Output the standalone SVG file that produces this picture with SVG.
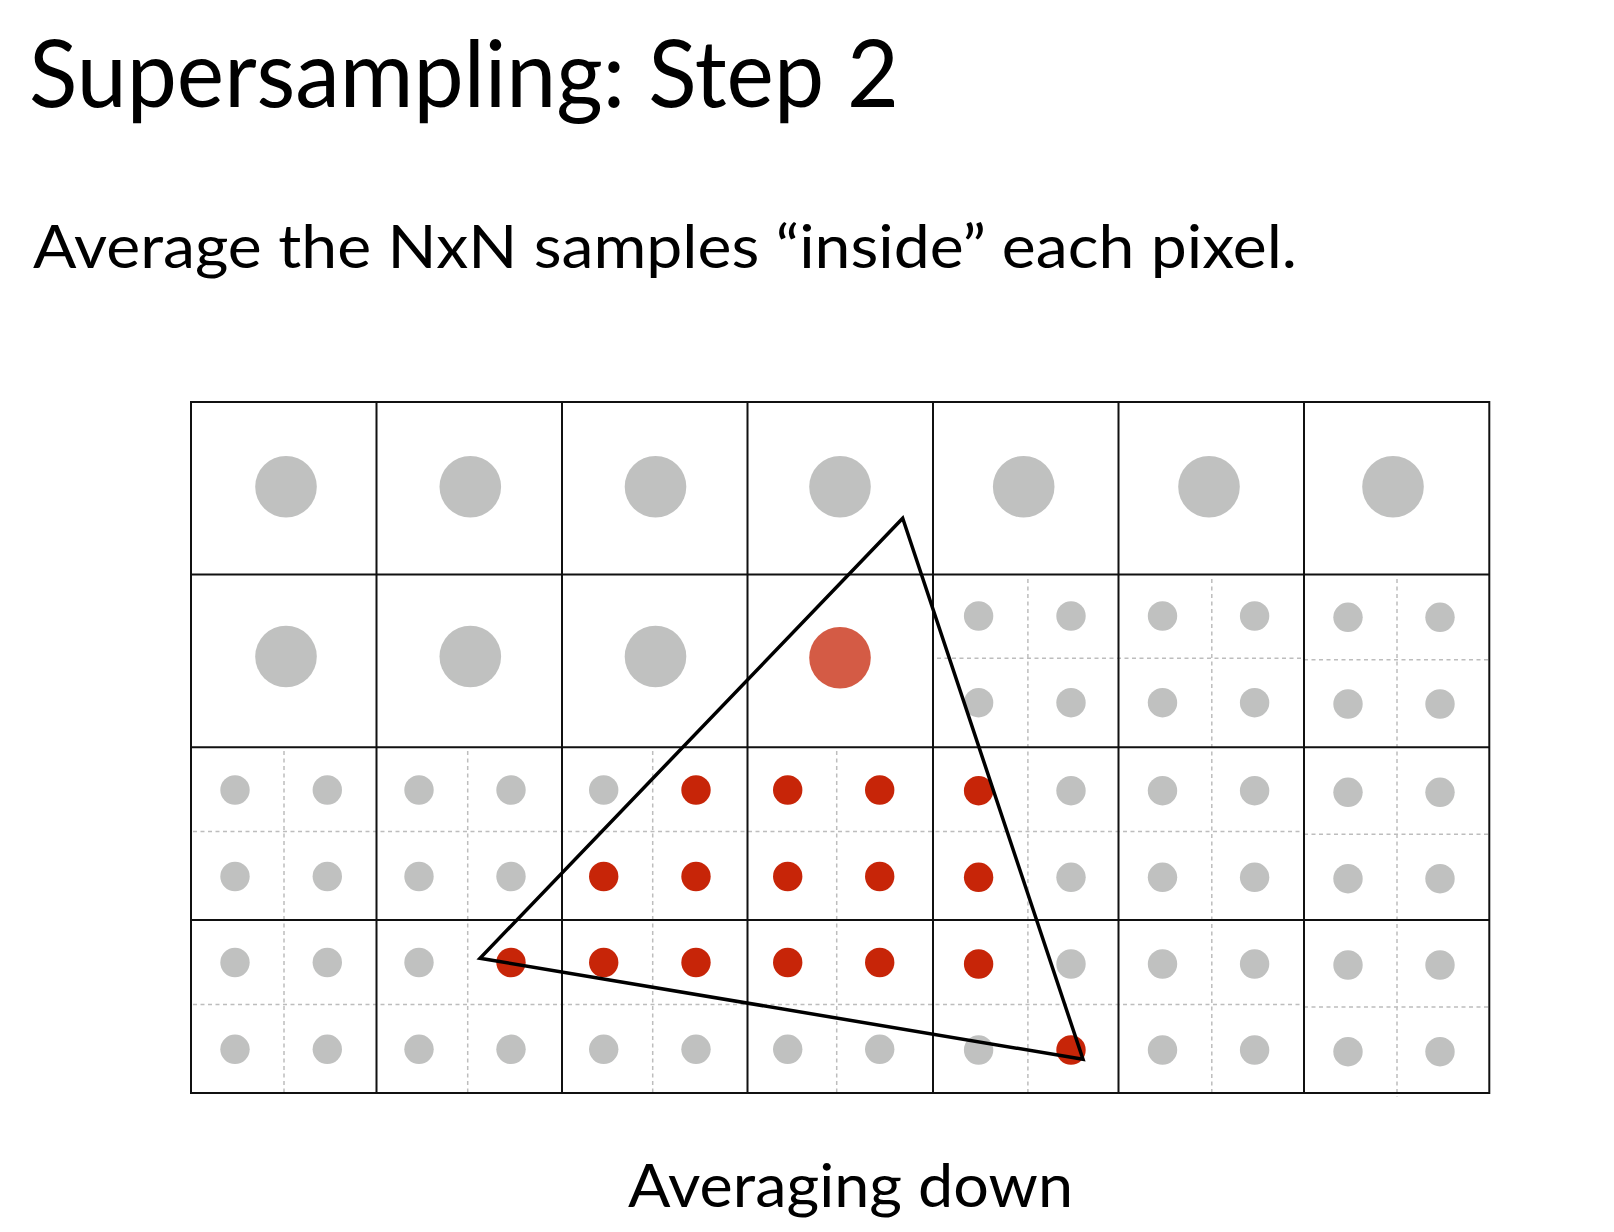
<svg xmlns="http://www.w3.org/2000/svg" width="1614" height="1232" viewBox="0 0 1614 1232">
<style>
.t{font-family:Lato,"Liberation Sans",sans-serif;fill:#000}
.g{stroke:#111;stroke-width:2;fill:none}
.d{stroke:#bdbdbd;stroke-width:1.5;stroke-dasharray:4 3.5;fill:none}
.s{fill:#c0c1c0}
.r{fill:#c72508}
.br{fill:#d45b45}
</style>
<rect width="1614" height="1232" fill="#fff"/>
<text class="t" x="29" y="107" font-size="93" textLength="870" lengthAdjust="spacingAndGlyphs">Supersampling: Step 2</text>
<text class="t" x="33" y="268" font-size="60" textLength="1264" lengthAdjust="spacingAndGlyphs">Average the NxN samples “inside” each pixel.</text>

<g id="subgrid">
<line class="d" x1="284" y1="751" x2="284" y2="1096"/>
<line class="d" x1="467.7" y1="751" x2="467.7" y2="1096"/>
<line class="d" x1="652.7" y1="751" x2="652.7" y2="1096"/>
<line class="d" x1="836.7" y1="751" x2="836.7" y2="1096"/>
<line class="d" x1="1027.9" y1="579" x2="1027.9" y2="1096"/>
<line class="d" x1="1211.8" y1="579" x2="1211.8" y2="1096"/>
<line class="d" x1="1397" y1="579" x2="1397" y2="1097"/>
<line class="d" x1="937" y1="658.3" x2="1304" y2="658.3"/>
<line class="d" x1="1304" y1="659.7" x2="1489" y2="659.7"/>
<line class="d" x1="193" y1="831.5" x2="1304" y2="831.5"/>
<line class="d" x1="1304" y1="834.3" x2="1489" y2="834.3"/>
<line class="d" x1="193" y1="1004.5" x2="1304" y2="1004.5"/>
<line class="d" x1="1304" y1="1007" x2="1489" y2="1007"/>
</g>

<g id="grid">
<rect class="g" x="191" y="402" width="1298.3" height="691"/>
<line class="g" x1="376.5" y1="402" x2="376.5" y2="1093"/>
<line class="g" x1="562" y1="402" x2="562" y2="1093"/>
<line class="g" x1="747.5" y1="402" x2="747.5" y2="1093"/>
<line class="g" x1="933" y1="402" x2="933" y2="1093"/>
<line class="g" x1="1118.5" y1="402" x2="1118.5" y2="1093"/>
<line class="g" x1="1304" y1="402" x2="1304" y2="1093"/>
<line class="g" x1="191" y1="574.5" x2="1489.3" y2="574.5"/>
<line class="g" x1="191" y1="747.2" x2="1489.3" y2="747.2"/>
<line class="g" x1="191" y1="920" x2="1489.3" y2="920"/>
</g>

<g id="row0">
<circle class="s" cx="286" cy="486.7" r="30.8"/>
<circle class="s" cx="470.3" cy="486.7" r="30.8"/>
<circle class="s" cx="655.5" cy="486.7" r="30.8"/>
<circle class="s" cx="840" cy="486.7" r="30.8"/>
<circle class="s" cx="1023.7" cy="486.7" r="30.8"/>
<circle class="s" cx="1209" cy="486.7" r="30.8"/>
<circle class="s" cx="1393" cy="486.7" r="30.8"/>
</g>

<g id="row1">
<circle class="s" cx="286" cy="656.5" r="30.8"/>
<circle class="s" cx="470.3" cy="656.5" r="30.8"/>
<circle class="s" cx="655.5" cy="656.5" r="30.8"/>
<circle class="br" cx="840" cy="657.7" r="30.8"/>
<circle class="s" cx="978.6" cy="616" r="14.7"/>
<circle class="s" cx="1071" cy="616" r="14.7"/>
<circle class="s" cx="978.6" cy="702.7" r="14.7"/>
<circle class="s" cx="1071" cy="702.7" r="14.7"/>
<circle class="s" cx="1162.5" cy="616" r="14.7"/>
<circle class="s" cx="1254.6" cy="616" r="14.7"/>
<circle class="s" cx="1162.5" cy="702.7" r="14.7"/>
<circle class="s" cx="1254.6" cy="702.7" r="14.7"/>
<circle class="s" cx="1348" cy="617.3" r="14.7"/>
<circle class="s" cx="1440" cy="617.3" r="14.7"/>
<circle class="s" cx="1348" cy="704" r="14.7"/>
<circle class="s" cx="1440" cy="704" r="14.7"/>
</g>

<g id="row2">
<circle class="s" cx="235" cy="790" r="14.7"/>
<circle class="s" cx="327.3" cy="790" r="14.7"/>
<circle class="s" cx="235" cy="876.5" r="14.7"/>
<circle class="s" cx="327.3" cy="876.5" r="14.7"/>
<circle class="s" cx="419" cy="790" r="14.7"/>
<circle class="s" cx="511" cy="790" r="14.7"/>
<circle class="s" cx="419" cy="876.5" r="14.7"/>
<circle class="s" cx="511" cy="876.5" r="14.7"/>
<circle class="s" cx="603.7" cy="790" r="14.7"/>
<circle class="r" cx="696" cy="790" r="14.7"/>
<circle class="r" cx="603.7" cy="876.5" r="14.7"/>
<circle class="r" cx="696" cy="876.5" r="14.7"/>
<circle class="r" cx="787.7" cy="790" r="14.7"/>
<circle class="r" cx="879.7" cy="790" r="14.7"/>
<circle class="r" cx="787.7" cy="876.5" r="14.7"/>
<circle class="r" cx="879.7" cy="876.5" r="14.7"/>
<circle class="r" cx="978.6" cy="790.7" r="14.7"/>
<circle class="s" cx="1071" cy="790.7" r="14.7"/>
<circle class="r" cx="978.6" cy="877.3" r="14.7"/>
<circle class="s" cx="1071" cy="877.3" r="14.7"/>
<circle class="s" cx="1162.5" cy="790.7" r="14.7"/>
<circle class="s" cx="1254.6" cy="790.7" r="14.7"/>
<circle class="s" cx="1162.5" cy="877.3" r="14.7"/>
<circle class="s" cx="1254.6" cy="877.3" r="14.7"/>
<circle class="s" cx="1348" cy="792.3" r="14.7"/>
<circle class="s" cx="1440" cy="792.3" r="14.7"/>
<circle class="s" cx="1348" cy="878.7" r="14.7"/>
<circle class="s" cx="1440" cy="878.7" r="14.7"/>
</g>

<g id="row3">
<circle class="s" cx="235" cy="962.5" r="14.7"/>
<circle class="s" cx="327.3" cy="962.5" r="14.7"/>
<circle class="s" cx="235" cy="1049.3" r="14.7"/>
<circle class="s" cx="327.3" cy="1049.3" r="14.7"/>
<circle class="s" cx="419" cy="962.5" r="14.7"/>
<circle class="r" cx="511" cy="962.5" r="14.7"/>
<circle class="s" cx="419" cy="1049.3" r="14.7"/>
<circle class="s" cx="511" cy="1049.3" r="14.7"/>
<circle class="r" cx="603.7" cy="962.5" r="14.7"/>
<circle class="r" cx="696" cy="962.5" r="14.7"/>
<circle class="s" cx="603.7" cy="1049.3" r="14.7"/>
<circle class="s" cx="696" cy="1049.3" r="14.7"/>
<circle class="r" cx="787.7" cy="962.5" r="14.7"/>
<circle class="r" cx="879.7" cy="962.5" r="14.7"/>
<circle class="s" cx="787.7" cy="1049.3" r="14.7"/>
<circle class="s" cx="879.7" cy="1049.3" r="14.7"/>
<circle class="r" cx="978.6" cy="964" r="14.7"/>
<circle class="s" cx="1071" cy="964" r="14.7"/>
<circle class="s" cx="978.6" cy="1050" r="14.7"/>
<circle class="r" cx="1071" cy="1050" r="14.7"/>
<circle class="s" cx="1162.5" cy="964" r="14.7"/>
<circle class="s" cx="1254.6" cy="964" r="14.7"/>
<circle class="s" cx="1162.5" cy="1050" r="14.7"/>
<circle class="s" cx="1254.6" cy="1050" r="14.7"/>
<circle class="s" cx="1348" cy="965" r="14.7"/>
<circle class="s" cx="1440" cy="965" r="14.7"/>
<circle class="s" cx="1348" cy="1051.7" r="14.7"/>
<circle class="s" cx="1440" cy="1051.7" r="14.7"/>
</g>

<g id="triangle">
<polygon points="902.7,518.3 480,958.3 1083,1059.3" fill="none" stroke="#000" stroke-width="3.5" stroke-linejoin="miter"/>
</g>

<text class="t" x="628" y="1207" font-size="60" textLength="445" lengthAdjust="spacingAndGlyphs">Averaging down</text>
</svg>
